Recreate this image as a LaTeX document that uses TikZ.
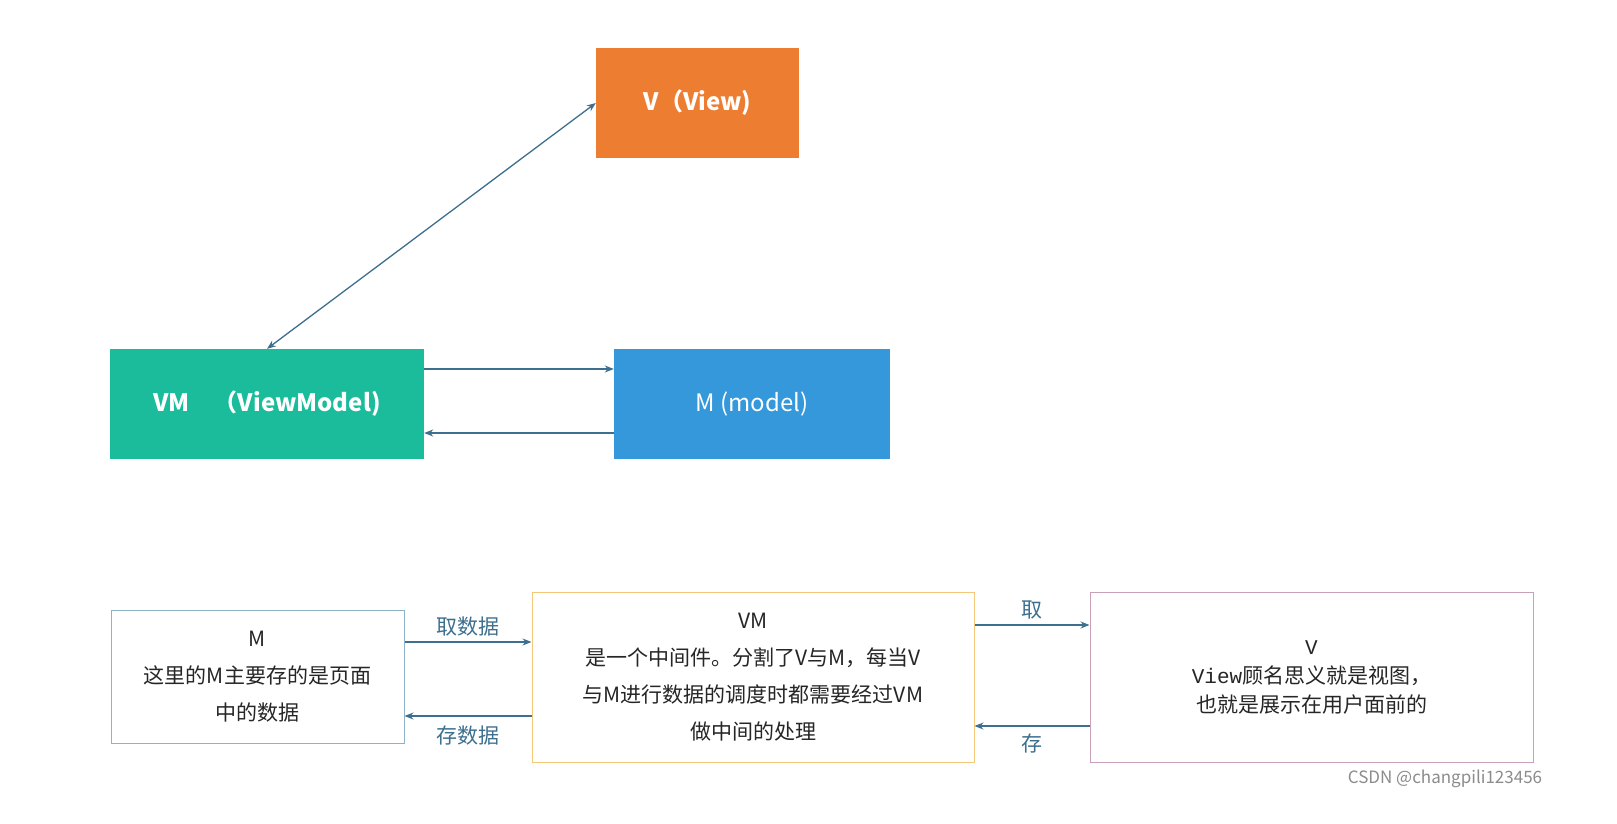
\documentclass[tikz,border=0pt]{standalone}
\usepackage{fontspec}
\setmainfont{Noto Sans CJK SC}
\newfontfamily\cjk{Noto Sans CJK SC}
\newfontfamily\mono{Liberation Mono}
\usetikzlibrary{arrows.meta}
\definecolor{arr}{HTML}{3D6F8E}
\tikzset{
 big/.style={draw=none,minimum height=110pt,text=white,font=\fontsize{24}{28}\selectfont\bfseries},
 small/.style={draw,line width=1pt,align=center,font=\fontsize{21}{37}\selectfont,text=black!85},
 con/.style={draw=arr,line width=1.3pt,-{Stealth[length=9pt,width=7pt]}},
 lab/.style={text=arr,font=\fontsize{21}{24}\selectfont}
}
\begin{document}
\begin{tikzpicture}[x=1pt,y=-1pt]
\useasboundingbox[fill=white] (0,0) rectangle (1617,824);
\node[big,fill={rgb,255:red,237;green,125;blue,49},minimum width=203pt] (V) at (697.5,103) {V（View)};
\node[big,fill={rgb,255:red,26;green,188;blue,156},minimum width=314pt] (VM) at (267,404) {VM\quad（ViewModel)};
\node[big,fill={rgb,255:red,52;green,152;blue,219},minimum width=276pt,font=\fontsize{24}{28}\selectfont] (M) at (752,404) {M (model)};
\draw[con,{Stealth[length=9pt,width=7pt]}-{Stealth[length=9pt,width=7pt]}] (VM.north) -- (V.west);
\draw[con] (VM.east |- 0,369) coordinate (a1) -- (M.west |- 0,369);
\draw[con] (M.west |- 0,433) -- (VM.east |- 0,433);
% bottom
\node[small,draw={rgb,255:red,140;green,180;blue,200},minimum width=293pt,minimum height=133pt] (bm) at (257.5,676.5) {M\\这里的M主要存的是页面\\中的数据};
\node[small,draw={rgb,255:red,244;green,200;blue,120},minimum width=442pt,minimum height=170pt] (bvm) at (753,677) {VM\\是一个中间件。分割了V与M，每当V\\与M进行数据的调度时都需要经过VM\\做中间的处理};
\node[small,draw={rgb,255:red,200;green,160;blue,185},minimum width=443pt,minimum height=170pt,font=\fontsize{21}{29}\selectfont] (bv) at (1311.5,677) {{\mono V}\\{\mono View}顾名思义就是视图，\\也就是展示在用户面前的};
\draw[con] (bm.east |- 0,642) -- (bvm.west |- 0,642) node[lab,midway,above=2pt] {取数据};
\draw[con] (bvm.west |- 0,716) -- (bm.east |- 0,716) node[lab,midway,below=6pt] {存数据};
\draw[con] (bvm.east |- 0,625) -- (bv.west |- 0,625) node[lab,midway,above=2pt] {取};
\draw[con] (bv.west |- 0,726) -- (bvm.east |- 0,726) node[lab,midway,below=4pt] {存};
\node[text=black!45,font=\fontsize{17}{20}\selectfont] (wm) at (1445,779) {CSDN @changpili123456};
\end{tikzpicture}
\end{document}
